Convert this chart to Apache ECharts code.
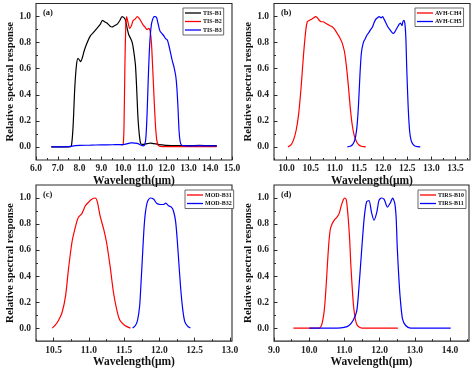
<!DOCTYPE html>
<html>
<head>
<meta charset="utf-8">
<script src="https://cdn.jsdelivr.net/npm/echarts@6/dist/echarts.min.js"></script>
<style>
html,body{margin:0;padding:0;background:#fff;}
#chart{width:474px;height:369px;}
</style>
</head>
<body>
<div id="chart"></div>
<script>
// ---------- data ----------
const yTicks = [0, 0.2, 0.4, 0.6, 0.8, 1.0];
const yMinorTicks = [0.1, 0.3, 0.5, 0.7, 0.9];

const xTicksA = [6, 7, 8, 9, 10, 11, 12, 13, 14, 15];
const xMinorA = [6.5, 7.5, 8.5, 9.5, 10.5, 11.5, 12.5, 13.5, 14.5];
const xTicksB = [10, 10.5, 11, 11.5, 12, 12.5, 13, 13.5];
const xMinorB = [9.75, 10.25, 10.75, 11.25, 11.75, 12.25, 12.75, 13.25, 13.75];
const xTicksC = [10.5, 11, 11.5, 12, 12.5, 13];
const xMinorC = [10.25, 10.75, 11.25, 11.75, 12.25, 12.75];
const xTicksD = [9, 10, 11, 12, 13, 14];
const xMinorD = [9.5, 10.5, 11.5, 12.5, 13.5, 14.5];

// (a) TIS
const tisB1X = [6.7, 7.0, 7.5, 7.62, 7.7, 7.78, 7.86, 7.93, 8.0, 8.05, 8.12, 8.2, 8.3, 8.49, 8.65, 8.8, 8.95, 9.05, 9.15, 9.26, 9.38, 9.49, 9.6, 9.72, 9.85, 9.95, 10.05, 10.11, 10.2, 10.26, 10.35, 10.42, 10.5, 10.57, 10.63, 10.68, 10.74, 10.8, 10.88, 10.95, 11.1, 11.25, 11.4, 11.6, 12.0, 12.5, 13.0, 13.5, 14.0, 14.3];
const tisB1Y = [0.0, 0.0, 0.0, 0.005, 0.15, 0.45, 0.63, 0.68, 0.665, 0.655, 0.68, 0.73, 0.78, 0.85, 0.88, 0.91, 0.94, 0.97, 0.96, 0.95, 0.93, 0.92, 0.93, 0.94, 0.97, 1.0, 0.99, 0.97, 0.9, 0.86, 0.83, 0.8, 0.72, 0.62, 0.42, 0.23, 0.1, 0.03, 0.02, 0.02, 0.025, 0.03, 0.025, 0.02, 0.012, 0.01, 0.01, 0.012, 0.01, 0.01];
const tisB2X = [9.9, 10.0, 10.04, 10.08, 10.12, 10.16, 10.22, 10.3, 10.38, 10.46, 10.55, 10.65, 10.72, 10.8, 10.9, 11.0, 11.1, 11.18, 11.24, 11.3, 11.36, 11.42, 11.48, 11.54, 11.6, 11.7, 12.0, 12.5, 13.0, 13.5, 14.0, 14.3];
const tisB2Y = [0.015, 0.02, 0.15, 0.6, 0.92, 1.0, 0.96, 0.91, 0.93, 0.97, 0.98, 1.0, 0.99, 0.97, 0.94, 0.92, 0.9, 0.91, 0.89, 0.8, 0.6, 0.38, 0.18, 0.06, 0.015, 0.005, 0.003, 0.003, 0.003, 0.003, 0.003, 0.003];
const tisB3X = [6.7, 7.0, 7.5, 7.8, 8.0, 8.5, 9.0, 9.5, 10.0, 10.2, 10.35, 10.5, 10.65, 10.8, 10.92, 11.0, 11.05, 11.1, 11.15, 11.2, 11.25, 11.3, 11.36, 11.42, 11.48, 11.54, 11.6, 11.69, 11.78, 11.88, 11.95, 12.03, 12.1, 12.18, 12.26, 12.34, 12.42, 12.47, 12.52, 12.57, 12.62, 12.68, 12.75, 12.9, 13.2, 13.5, 14.0, 14.3];
const tisB3Y = [0.0, 0.0, 0.003, 0.01, 0.012, 0.014, 0.016, 0.017, 0.018, 0.025, 0.032, 0.03, 0.028, 0.015, 0.008, 0.02, 0.08, 0.25, 0.5, 0.72, 0.86, 0.94, 0.98, 1.0, 1.0, 0.99, 0.95, 0.89, 0.87, 0.85, 0.83, 0.82, 0.78, 0.72, 0.66, 0.61, 0.54, 0.45, 0.3, 0.12, 0.04, 0.015, 0.01, 0.008, 0.008, 0.01, 0.008, 0.008];

// (b) AVHRR
const avhCh4X = [10.03, 10.1, 10.15, 10.2, 10.25, 10.3, 10.35, 10.4, 10.43, 10.47, 10.52, 10.56, 10.6, 10.64, 10.68, 10.72, 10.76, 10.8, 10.85, 10.9, 10.95, 11.0, 11.05, 11.1, 11.15, 11.2, 11.24, 11.28, 11.32, 11.36, 11.4, 11.45, 11.5, 11.55, 11.6, 11.64];
const avhCh4Y = [0.0, 0.02, 0.06, 0.13, 0.25, 0.45, 0.7, 0.9, 0.96, 0.97, 0.98, 0.99, 1.0, 0.99, 0.97, 0.96, 0.96, 0.95, 0.94, 0.93, 0.92, 0.9, 0.87, 0.84, 0.8, 0.73, 0.62, 0.47, 0.3, 0.17, 0.09, 0.04, 0.015, 0.005, 0.002, 0.0];
const avhCh5X = [11.26, 11.32, 11.36, 11.4, 11.43, 11.46, 11.49, 11.52, 11.55, 11.59, 11.63, 11.67, 11.71, 11.74, 11.78, 11.81, 11.85, 11.88, 11.92, 11.96, 11.99, 12.02, 12.06, 12.1, 12.14, 12.18, 12.21, 12.24, 12.27, 12.3, 12.33, 12.36, 12.39, 12.41, 12.43, 12.45, 12.47, 12.49, 12.52, 12.55, 12.58, 12.62, 12.67, 12.77];
const avhCh5Y = [0.0, 0.005, 0.015, 0.04, 0.08, 0.16, 0.32, 0.55, 0.72, 0.8, 0.83, 0.86, 0.88, 0.9, 0.92, 0.95, 0.98, 0.99, 1.0, 0.99, 1.0, 0.98, 0.95, 0.92, 0.9, 0.88, 0.87, 0.88, 0.9, 0.92, 0.94, 0.95, 0.93, 0.96, 0.97, 0.95, 0.85, 0.6, 0.3, 0.12, 0.05, 0.02, 0.005, 0.0];

// (c) MODIS
const modB31X = [10.48, 10.52, 10.57, 10.62, 10.67, 10.71, 10.76, 10.81, 10.85, 10.9, 10.95, 11.0, 11.04, 11.09, 11.12, 11.16, 11.21, 11.25, 11.3, 11.35, 11.4, 11.44, 11.51, 11.59];
const modB31Y = [0.0, 0.02, 0.06, 0.12, 0.25, 0.45, 0.66, 0.78, 0.85, 0.88, 0.94, 0.97, 0.99, 1.0, 0.97, 0.86, 0.76, 0.66, 0.48, 0.27, 0.13, 0.06, 0.02, 0.0];
const modB32X = [11.62, 11.66, 11.69, 11.72, 11.74, 11.76, 11.78, 11.8, 11.83, 11.87, 11.92, 11.96, 12.01, 12.06, 12.09, 12.13, 12.17, 12.2, 12.23, 12.25, 12.27, 12.3, 12.33, 12.36, 12.4, 12.44];
const modB32Y = [0.0, 0.02, 0.06, 0.17, 0.35, 0.55, 0.75, 0.88, 0.97, 1.0, 0.99, 0.96, 0.95, 0.95, 0.96, 0.94, 0.93, 0.9, 0.82, 0.7, 0.55, 0.32, 0.15, 0.05, 0.015, 0.0];

// (d) TIRS
const tirsB10X = [9.55, 10.0, 10.28, 10.33, 10.37, 10.41, 10.44, 10.48, 10.52, 10.56, 10.6, 10.65, 10.69, 10.74, 10.78, 10.85, 10.91, 10.96, 11.0, 11.05, 11.08, 11.11, 11.15, 11.18, 11.22, 11.26, 11.31, 11.35, 11.42, 11.5, 12.0, 12.52];
const tirsB10Y = [0.0, 0.0, 0.0, 0.01, 0.04, 0.1, 0.17, 0.32, 0.5, 0.66, 0.76, 0.8, 0.82, 0.84, 0.85, 0.88, 0.94, 0.98, 1.0, 0.99, 0.93, 0.84, 0.68, 0.5, 0.32, 0.17, 0.07, 0.03, 0.008, 0.0, 0.0, 0.0];
const tirsB11X = [10.0, 10.5, 10.8, 10.99, 11.13, 11.25, 11.35, 11.41, 11.48, 11.56, 11.63, 11.7, 11.77, 11.84, 11.92, 11.98, 12.05, 12.13, 12.22, 12.3, 12.37, 12.43, 12.47, 12.5, 12.54, 12.58, 12.65, 12.74, 12.88, 13.5, 14.02];
const tirsB11Y = [0.0, 0.0, 0.0, 0.005, 0.02, 0.06, 0.13, 0.3, 0.56, 0.84, 0.97, 0.98, 0.89, 0.83, 0.89, 0.98, 1.0, 0.99, 0.93, 0.96, 1.0, 0.96, 0.85, 0.63, 0.42, 0.25, 0.07, 0.02, 0.0, 0.0, 0.0];

// ---------- layout / style ----------
const FONT = "'Liberation Serif', 'DejaVu Serif', serif";
const AXC = '#2a2a2a';
const zip = (xs, ys) => xs.map((x, i) => [x, ys[i]]);

const panels = [
  { tag: '(a)', grid: {left: 36, top: 3.5, width: 196, height: 156.5}, xMin: 6, xMax: 15,
    xTicks: xTicksA, xMinor: xMinorA,
    legend: {left: 183, top: 8},
    series: [['TIS-B1', '#000000', tisB1X, tisB1Y], ['TIS-B2', '#ff0000', tisB2X, tisB2Y], ['TIS-B3', '#0000ff', tisB3X, tisB3Y]] },
  { tag: '(b)', grid: {left: 274, top: 3.5, width: 196, height: 156.5}, xMin: 9.74, xMax: 13.8,
    xTicks: xTicksB, xMinor: xMinorB,
    legend: {left: 415, top: 8},
    series: [['AVH-CH4', '#ff0000', avhCh4X, avhCh4Y], ['AVH-CH5', '#0000ff', avhCh5X, avhCh5Y]] },
  { tag: '(c)', grid: {left: 36, top: 185, width: 196, height: 157}, xMin: 10.25, xMax: 13.03,
    xTicks: xTicksC, xMinor: xMinorC,
    legend: {left: 185, top: 190},
    series: [['MOD-B31', '#ff0000', modB31X, modB31Y], ['MOD-B32', '#0000ff', modB32X, modB32Y]] },
  { tag: '(d)', grid: {left: 274, top: 185, width: 195, height: 157}, xMin: 9.0, xMax: 14.54,
    xTicks: xTicksD, xMinor: xMinorD,
    legend: {left: 418, top: 190},
    series: [['TIRS-B10', '#ff0000', tirsB10X, tirsB10Y], ['TIRS-B11', '#0000ff', tirsB11X, tirsB11Y]] }
];

const option = {
  animation: false,
  backgroundColor: '#fff',
  grid: [], xAxis: [], yAxis: [], series: [], legend: [], graphic: []
};

panels.forEach((p, i) => {
  option.grid.push(Object.assign({show: true, borderColor: AXC, borderWidth: 1.1, backgroundColor: 'transparent'}, p.grid));
  const labelStyle = {fontFamily: FONT, fontWeight: 'bold', fontSize: 9.5, color: '#222'};
  const hiddenLine = {show: false, onZero: false};
  // main x axis
  option.xAxis.push({
    type: 'value', gridIndex: i, min: p.xMin, max: p.xMax, position: 'bottom',
    axisLine: hiddenLine, splitLine: {show: false},
    axisTick: {show: true, inside: true, length: 3.5, customValues: p.xTicks, lineStyle: {color: AXC, width: 1}},
    axisLabel: Object.assign({show: true, customValues: p.xTicks, margin: 4, formatter: v => v.toFixed(1)}, labelStyle),
    name: 'Wavelength(\u03bcm)', nameLocation: 'middle', nameGap: 13,
    nameTextStyle: {fontFamily: FONT, fontWeight: 'bold', fontSize: 11.5, color: '#111'}
  });
  // minor x ticks
  option.xAxis.push({
    type: 'value', gridIndex: i, min: p.xMin, max: p.xMax, position: 'bottom',
    axisLine: hiddenLine, splitLine: {show: false}, axisLabel: {show: false},
    axisTick: {show: true, inside: true, length: 2, customValues: p.xMinor, lineStyle: {color: AXC, width: 1}}
  });
  option.yAxis.push({
    type: 'value', gridIndex: i, min: -0.1, max: 1.1, position: 'left',
    axisLine: hiddenLine, splitLine: {show: false},
    axisTick: {show: true, inside: true, length: 3.5, customValues: yTicks, lineStyle: {color: AXC, width: 1}},
    axisLabel: Object.assign({show: true, customValues: yTicks, margin: 5, formatter: v => v.toFixed(1)}, labelStyle),
    name: 'Relative spectral response', nameLocation: 'middle', nameGap: 18,
    nameTextStyle: {fontFamily: FONT, fontWeight: 'bold', fontSize: 10.8, color: '#111'}
  });
  option.yAxis.push({
    type: 'value', gridIndex: i, min: -0.1, max: 1.1, position: 'left',
    axisLine: hiddenLine, splitLine: {show: false}, axisLabel: {show: false},
    axisTick: {show: true, inside: true, length: 2, customValues: yMinorTicks, lineStyle: {color: AXC, width: 1}}
  });
  p.series.forEach(s => {
    option.series.push({
      name: s[0], type: 'line', xAxisIndex: i * 2, yAxisIndex: i * 2,
      data: zip(s[2], s[3]), showSymbol: false, symbol: 'none', smooth: 0.25,
      lineStyle: {color: s[1], width: 1.2}, itemStyle: {color: s[1]}
    });
  });
  option.legend.push({
    left: p.legend.left, top: p.legend.top, orient: 'vertical',
    data: p.series.map(s => s[0]), icon: 'rect', itemWidth: 16, itemHeight: 1.3, itemGap: 2.5,
    padding: [2, 2, 2, 2], borderColor: '#444', borderWidth: 0.8, backgroundColor: '#fff',
    selectedMode: false,
    textStyle: {fontFamily: FONT, fontWeight: 'bold', fontSize: 6, color: '#111', padding: [0, 0, 0, -3]}
  });
  option.graphic.push({
    type: 'text', left: p.grid.left + 7, top: p.grid.top + 5,
    style: {text: p.tag, font: "bold 8.5px " + FONT, fill: '#111'}
  });
});

const chart = echarts.init(document.getElementById('chart'), null, {renderer: 'canvas'});
chart.setOption(option);
</script>
</body>
</html>
